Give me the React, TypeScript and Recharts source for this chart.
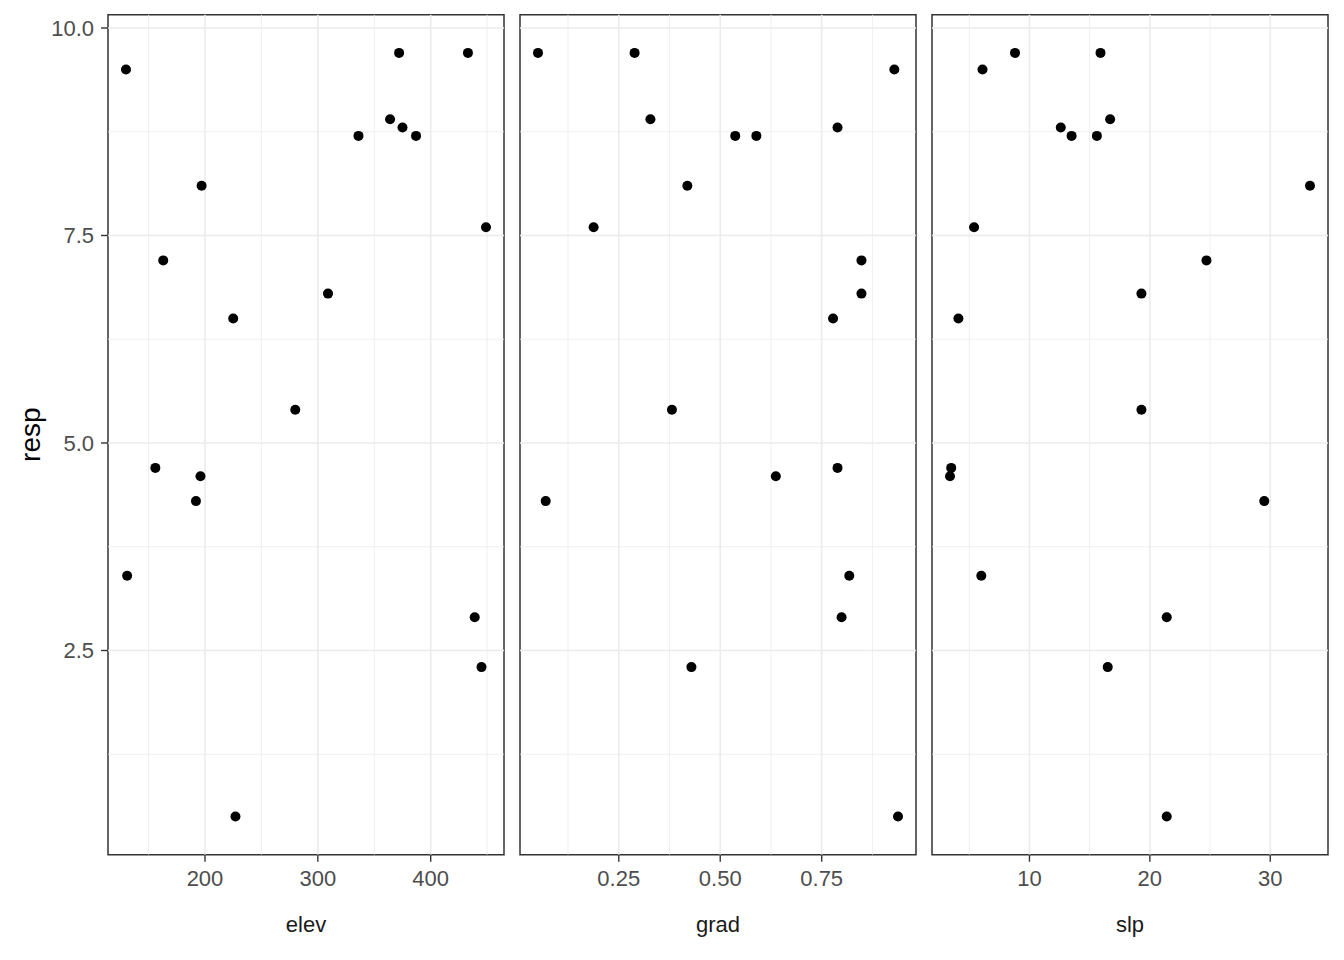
import React from 'react';
import { ScatterChart, Scatter, XAxis, YAxis, ReferenceLine, ReferenceArea } from 'recharts';

// observations (one row per site)
const resp = [9.7, 9.7, 9.5, 8.9, 8.8, 8.7, 8.7, 8.1, 7.6, 7.2, 6.8, 6.5, 5.4, 4.7, 4.6, 4.3, 3.4, 2.9, 2.3, 0.5];
const elev = [372, 433, 130, 364, 375, 336, 387, 197, 449, 163, 309, 225, 280, 156, 196, 192, 131, 439, 445, 227];
const grad = [0.051, 0.289, 0.929, 0.328, 0.789, 0.537, 0.589, 0.419, 0.188, 0.848, 0.848, 0.778, 0.381, 0.789, 0.637, 0.07, 0.818, 0.799, 0.429, 0.938];
const slp = [8.8, 15.9, 6.1, 16.7, 12.6, 13.5, 15.6, 33.3, 5.4, 24.7, 19.3, 4.1, 19.3, 3.5, 3.4, 29.5, 6.0, 21.4, 16.5, 21.4];

// ticks
const respTicks = [2.5, 5, 7.5, 10];
const respMinor = [1.25, 3.75, 6.25, 8.75];
const elevTicks = [200, 300, 400];
const elevMinor = [150, 250, 350, 450];
const gradTicks = [0.25, 0.5, 0.75];
const gradMinor = [0.125, 0.375, 0.625, 0.875];
const slpTicks = [10, 20, 30];
const slpMinor = [5, 15, 25];

const FONT = '"Liberation Sans", Arial, Helvetica, sans-serif';
const H = 960;
const PLOT_TOP = 14.7;
const PLOT_H = 840;
const PLOT_W = 396;
const Y_AXIS_W = 108;
const PAD = 3;

// ggplot-style 5% expansion
const expand = (arr: number[]): [number, number] => {
  const lo = Math.min(...arr);
  const hi = Math.max(...arr);
  const r = hi - lo;
  return [lo - 0.05 * r, hi + 0.05 * r];
};

const yDomain = expand(resp);

type PanelProps = {
  plotLeft: number;
  xValues: number[];
  xTicks: number[];
  xMinor: number[];
  xFmt: (v: number) => string;
  strip: string;
  showY: boolean;
};

function Panel({ plotLeft, xValues, xTicks, xMinor, xFmt, strip, showY }: PanelProps) {
  const data = xValues.map((x, i) => ({ x, y: resp[i] }));
  const xDomain = expand(xValues);
  const leftPart = showY ? Y_AXIS_W : PAD;
  const width = leftPart + PLOT_W + PAD;
  const chartLeft = plotLeft - leftPart;
  return (
    <div style={{ position: 'absolute', left: chartLeft, top: 0, width, height: H }}>
      <ScatterChart
        width={width}
        height={H}
        margin={{ top: PLOT_TOP, right: PAD, bottom: 0, left: showY ? 0 : PAD }}
      >
        <XAxis
          type="number"
          dataKey="x"
          domain={xDomain}
          allowDataOverflow
          ticks={xTicks}
          tickFormatter={xFmt}
          height={H - PLOT_TOP - PLOT_H}
          axisLine={false}
          tickSize={7}
          tickMargin={9}
          tickLine={{ stroke: '#333333', strokeWidth: 1.4 }}
          tick={{ fill: '#4D4D4D', fontSize: 22, fontFamily: FONT }}
          interval={0}
          label={{
            content: (p: any) => {
              const vb = p.viewBox || {};
              return (
                <text
                  x={vb.x + vb.width / 2}
                  y={vb.y + 77}
                  textAnchor="middle"
                  fill="#1A1A1A"
                  fontSize={22}
                  fontFamily={FONT}
                >
                  {strip}
                </text>
              );
            },
          }}
        />
        <YAxis
          type="number"
          dataKey="y"
          domain={yDomain}
          allowDataOverflow
          ticks={respTicks}
          tickFormatter={(v: number) => v.toFixed(1)}
          hide={!showY}
          width={showY ? Y_AXIS_W : 0}
          axisLine={false}
          tickSize={7}
          tickMargin={7}
          tickLine={{ stroke: '#333333', strokeWidth: 1.4 }}
          tick={{ fill: '#4D4D4D', fontSize: 22, fontFamily: FONT }}
          interval={0}
          label={
            showY
              ? {
                  content: (p: any) => {
                    const vb = p.viewBox || {};
                    const cy = vb.y + vb.height / 2;
                    return (
                      <text
                        x={40}
                        y={cy}
                        transform={`rotate(-90, 40, ${cy})`}
                        textAnchor="middle"
                        fill="#000000"
                        fontSize={28}
                        fontFamily={FONT}
                      >
                        resp
                      </text>
                    );
                  },
                }
              : undefined
          }
        />
        {respMinor.map((v) => (
          <ReferenceLine key={'ym' + v} y={v} stroke="#EBEBEB" strokeWidth={0.8} />
        ))}
        {xMinor.map((v) => (
          <ReferenceLine key={'xm' + v} x={v} stroke="#EBEBEB" strokeWidth={0.8} />
        ))}
        {respTicks.map((v) => (
          <ReferenceLine key={'yM' + v} y={v} stroke="#EBEBEB" strokeWidth={1.6} />
        ))}
        {xTicks.map((v) => (
          <ReferenceLine key={'xM' + v} x={v} stroke="#EBEBEB" strokeWidth={1.6} />
        ))}
        <Scatter
          data={data}
          isAnimationActive={false}
          shape={(p: any) => <circle cx={p.cx} cy={p.cy} r={5} fill="#000000" />}
        />
        <ReferenceArea
          x1={xDomain[0]}
          x2={xDomain[1]}
          y1={yDomain[0]}
          y2={yDomain[1]}
          fill="none"
          fillOpacity={0}
          stroke="#333333"
          strokeWidth={1.5}
          strokeOpacity={1}
          ifOverflow="visible"
        />
      </ScatterChart>
    </div>
  );
}

export default function App() {
  return (
    <div style={{ position: 'absolute', left: 0, top: 0, width: 1344, height: 960, background: '#FFFFFF' }}>
      <Panel plotLeft={108} xValues={elev} xTicks={elevTicks} xMinor={elevMinor} xFmt={(v) => String(v)} strip="elev" showY />
      <Panel plotLeft={520} xValues={grad} xTicks={gradTicks} xMinor={gradMinor} xFmt={(v) => v.toFixed(2)} strip="grad" showY={false} />
      <Panel plotLeft={932} xValues={slp} xTicks={slpTicks} xMinor={slpMinor} xFmt={(v) => String(v)} strip="slp" showY={false} />
    </div>
  );
}
